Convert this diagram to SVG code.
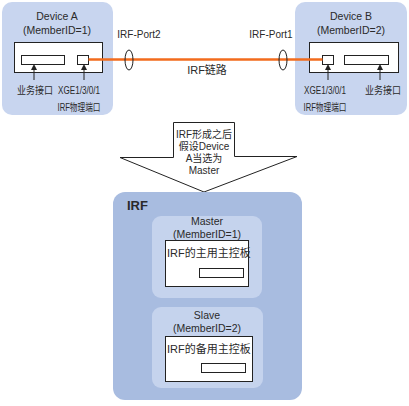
<svg xmlns="http://www.w3.org/2000/svg" width="409" height="406" viewBox="0 0 409 406">
<style>
text{font-family:"Liberation Sans","Noto Sans CJK SC",sans-serif;fill:#2a2a2a}
.t11{font-size:10.5px;text-anchor:middle}
.t10{font-size:10px;text-anchor:middle}
.dev{fill:#c8d5ef}
.wb{fill:#fff;stroke:#222;stroke-width:1}
.ln{stroke:#222;stroke-width:1;fill:none}
</style>
<defs>
<marker id="ah" viewBox="0 0 6 6" refX="3" refY="3" markerWidth="6" markerHeight="6" orient="auto"><path d="M0,0L6,3L0,6z" fill="#222"/></marker>
</defs>
<g id="deviceA">
<rect class="dev" x="2" y="2" width="111" height="113" rx="10"/>
<text class="t11" x="57" y="20">Device A</text>
<text class="t11" x="57" y="34">(MemberID=1)</text>
<rect class="wb" x="14.5" y="42.5" width="88" height="30"/>
<rect class="wb" x="21.5" y="55.5" width="43" height="9"/>
<rect class="wb" x="77.5" y="55.5" width="11" height="9"/>
<text class="t10" x="35" y="94" textLength="36" lengthAdjust="spacingAndGlyphs">业务接口</text>
<text class="t10" x="79" y="94" textLength="42" lengthAdjust="spacingAndGlyphs">XGE1/3/0/1</text>
<text class="t10" x="79" y="111" textLength="43" lengthAdjust="spacingAndGlyphs">IRF物理端口</text>
</g>
<g id="deviceB">
<rect class="dev" x="295" y="2" width="112" height="113" rx="10"/>
<text class="t11" x="351" y="20">Device B</text>
<text class="t11" x="351" y="34">(MemberID=2)</text>
<rect class="wb" x="309.5" y="42.5" width="89" height="30"/>
<rect class="wb" x="322.5" y="55.5" width="11" height="9"/>
<rect class="wb" x="344.5" y="55.5" width="44" height="9"/>
<text class="t10" x="325" y="94" textLength="42" lengthAdjust="spacingAndGlyphs">XGE1/3/0/1</text>
<text class="t10" x="325" y="111" textLength="43" lengthAdjust="spacingAndGlyphs">IRF物理端口</text>
<text class="t10" x="383" y="94" textLength="36" lengthAdjust="spacingAndGlyphs">业务接口</text>
</g>
<g id="connectors">
<line x1="88.5" y1="59.5" x2="322.5" y2="59.5" stroke="#f26b1d" stroke-width="2.5"/>
<ellipse class="ln" cx="129" cy="60" rx="4" ry="10"/>
<ellipse class="ln" cx="283" cy="60" rx="4" ry="10"/>
<line class="ln" x1="34" y1="80" x2="34" y2="67" marker-end="url(#ah)"/>
<line class="ln" x1="84" y1="80" x2="84" y2="67" marker-end="url(#ah)"/>
<line class="ln" x1="328" y1="80" x2="328" y2="67" marker-end="url(#ah)"/>
<line class="ln" x1="380" y1="80" x2="380" y2="67" marker-end="url(#ah)"/>
<text class="t10" x="139" y="38">IRF-Port2</text>
<text class="t10" x="271" y="38">IRF-Port1</text>
<text style="font-size:11px;text-anchor:middle" x="207" y="74">IRF链路</text>
</g>
<g id="arrow">
<path d="M173.5,122.5H234.5V156.5H297L204,192L120,157.5H173.5Z" fill="#fff" stroke="#222" stroke-width="1"/>
<text class="t10" x="204" y="138">IRF形成之后</text>
<text class="t10" x="204" y="150">假设Device</text>
<text class="t10" x="204" y="162">A当选为</text>
<text class="t10" x="204" y="174">Master</text>
</g>
<g id="irf">
<rect x="113" y="192" width="189" height="208" rx="12" fill="#a8bce0"/>
<text x="127" y="210" style="font-size:13px;font-weight:bold">IRF</text>
</g>
<g id="master">
<rect x="152" y="216" width="110" height="82" rx="9" fill="#c5d3ed"/>
<text class="t11" x="207" y="225">Master</text>
<text class="t11" x="207" y="238">(MemberID=1)</text>
<rect class="wb" x="165.5" y="240.5" width="83" height="46"/>
<text x="167" y="257" style="font-size:11px">IRF的主用主控板</text>
<rect class="wb" x="199.5" y="268.5" width="44" height="9"/>
</g>
<g id="slave">
<rect x="152" y="307" width="111" height="81" rx="9" fill="#c5d3ed"/>
<text class="t11" x="207" y="319">Slave</text>
<text class="t11" x="207" y="332">(MemberID=2)</text>
<rect class="wb" x="165.5" y="336.5" width="87" height="45"/>
<text x="167" y="353" style="font-size:11px">IRF的备用主控板</text>
<rect class="wb" x="201.5" y="363.5" width="44" height="9"/>
</g>
</svg>
